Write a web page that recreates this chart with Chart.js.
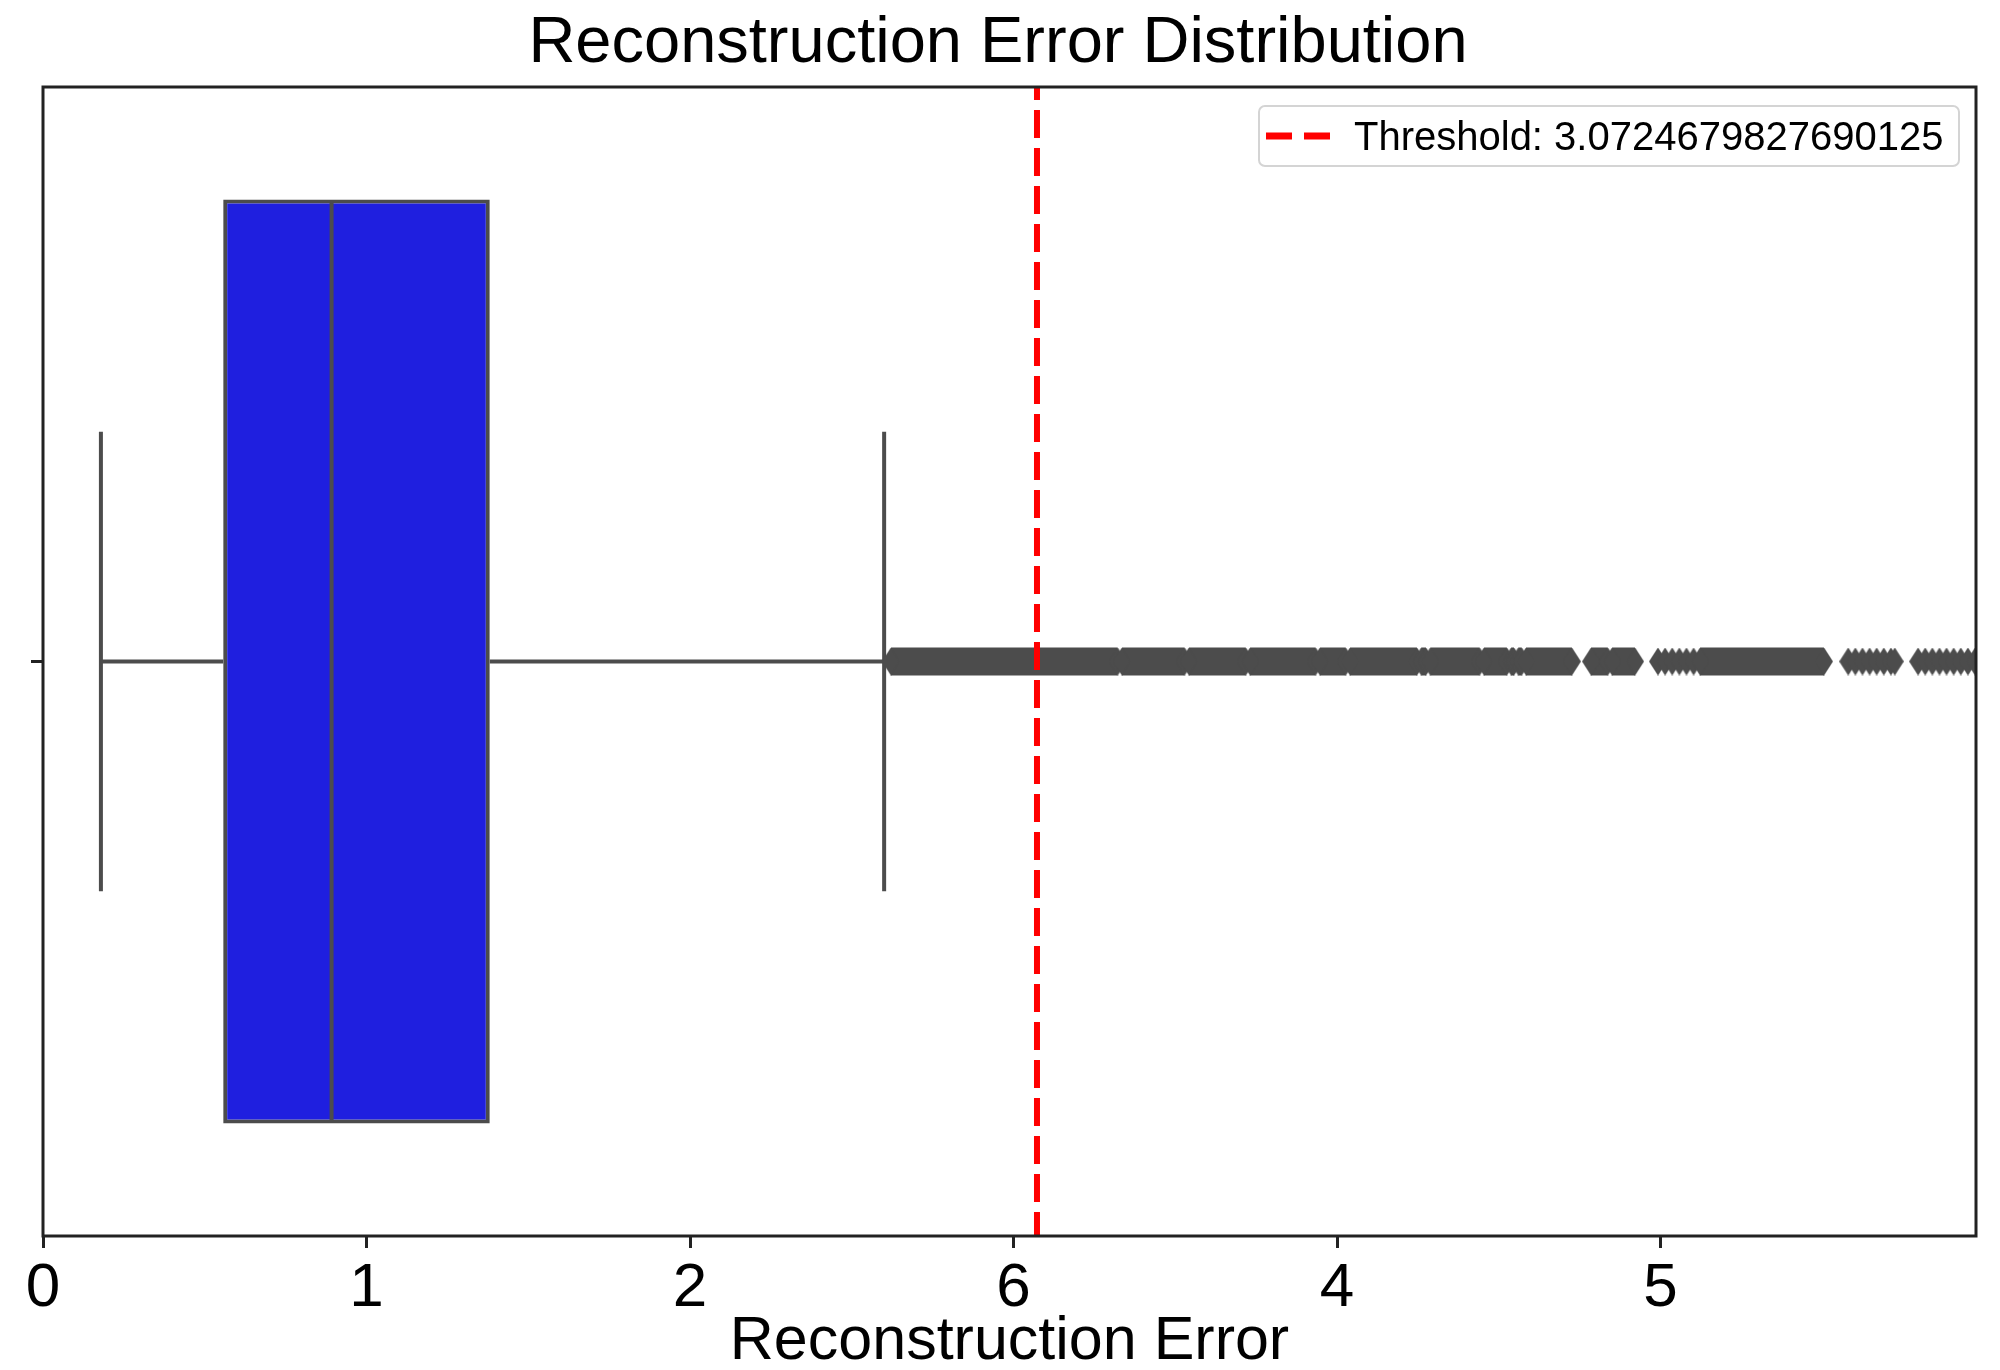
<!DOCTYPE html>
<html>
<head>
<meta charset="utf-8">
<script src="https://cdn.jsdelivr.net/npm/chart.js@4.4.1/dist/chart.umd.min.js"></script>
<style>
    html, body { margin: 0; padding: 0; background: #fff; }
    #wrap { position: relative; width: 2000px; height: 1370px; }
    #legend {
        position: absolute; left: 1258px; top: 105px; width: 698px; height: 58px;
        border: 2px solid #d4d4d4; border-radius: 7px; background: rgba(255,255,255,0.85);
        font-family: "Liberation Sans", Arial, sans-serif; font-size: 40px; color: #000;
        display: flex; align-items: center; box-sizing: content-box; white-space: nowrap;
    }
    #legend svg { margin-left: 6px; margin-right: 20px; }
</style>
</head>
<body>
<div id="wrap">
    <canvas id="chart"></canvas>
    <div id="legend"></div>
</div>
<script>
// values
const categories = [''];
const boxValues = [0.179, 0.557, 0.892, 1.381, 2.600]; // low whisker, q1, median, q3, high whisker
const threshold = 3.0724679827690125;
// outlier diamonds: runs of densely packed points [first, last]
const outlierRuns = [
    [2.621, 3.322], [3.335, 3.529], [3.542, 3.718], [3.731, 3.934], [3.947, 4.027],
    [4.040, 4.247], [4.260, 4.275], [4.288, 4.441], [4.454, 4.525], [4.538, 4.547],
    [4.560, 4.571], [4.584, 4.726], [4.785, 4.837], [4.850, 4.921], [4.992, 4.992],
    [5.014, 5.014], [5.036, 5.036], [5.058, 5.058], [5.080, 5.080], [5.102, 5.102],
    [5.122, 5.505], [5.580, 5.580], [5.602, 5.602], [5.624, 5.624], [5.646, 5.646],
    [5.668, 5.668], [5.690, 5.690], [5.712, 5.712], [5.724, 5.724], [5.796, 5.796],
    [5.818, 5.818], [5.840, 5.840], [5.862, 5.862], [5.884, 5.884], [5.906, 5.906],
    [5.928, 5.928], [5.950, 5.950], [5.972, 5.972], [5.994, 5.994]
];
const xTickValues = [0, 1, 2, 3, 4, 5];
const xTickLabels = ['0', '1', '2', '6', '4', '5'];
const xMax = 5.975;

const FONT = '"Liberation Sans", Arial, sans-serif';
const GRAY = '#4c4c4c';
const BOX_BLUE = '#1f1fdf';

const [whiskLo, q1, med, q3, whiskHi] = boxValues;

// thin diamond marker like matplotlib's 'd'
function makeDiamond(w, h, color) {
    const c = document.createElement('canvas');
    c.width = w;
    c.height = h;
    const g = c.getContext('2d');
    g.fillStyle = color;
    g.beginPath();
    g.moveTo(w / 2, 0);
    g.lineTo(w, h / 2);
    g.lineTo(w / 2, h);
    g.lineTo(0, h / 2);
    g.closePath();
    g.fill();
    return c;
}

const bandLine = [];
const bandEnds = [];
outlierRuns.forEach(([a, b]) => {
    bandLine.push({x: a, y: 0}, {x: b, y: 0}, {x: b, y: null});
    bandEnds.push({x: a, y: 0});
    if (b !== a) bandEnds.push({x: b, y: 0});
});

const lineDefaults = {
    type: 'line', indexAxis: 'x', yAxisID: 'y2', pointRadius: 0,
    borderColor: GRAY, borderWidth: 4, fill: false, clip: 0, spanGaps: false
};

const framePlugin = {
    id: 'frame',
    afterDraw(chart) {
        const {ctx, chartArea: a} = chart;
        ctx.save();
        ctx.strokeStyle = '#222';
        ctx.lineWidth = 3;
        ctx.strokeRect(a.left, a.top, a.right - a.left, a.bottom - a.top);
        ctx.restore();
    }
};

new Chart(document.getElementById('chart'), {
    type: 'bar',
    data: {
        labels: categories,
        datasets: [
            Object.assign({}, lineDefaults, {
                label: 'Threshold: ' + threshold,
                data: [{x: threshold, y: 0.5}, {x: threshold, y: -0.5}],
                borderColor: '#ff0000', borderWidth: 6, borderDash: [28, 10], borderDashOffset: 15
            }),
            Object.assign({}, lineDefaults, {
                label: 'outlier markers', data: bandEnds, showLine: false,
                pointRadius: 10, pointStyle: makeDiamond(18, 28, GRAY)
            }),
            Object.assign({}, lineDefaults, {
                label: 'outliers', data: bandLine, borderWidth: 28, borderCapStyle: 'butt'
            }),
            Object.assign({}, lineDefaults, {
                label: 'median', data: [{x: med, y: -0.4}, {x: med, y: 0.4}]
            }),
            Object.assign({}, lineDefaults, {
                label: 'whisker low', data: [{x: whiskLo, y: 0}, {x: q1, y: 0}]
            }),
            Object.assign({}, lineDefaults, {
                label: 'whisker high', data: [{x: q3, y: 0}, {x: whiskHi, y: 0}]
            }),
            Object.assign({}, lineDefaults, {
                label: 'cap low', data: [{x: whiskLo, y: -0.2}, {x: whiskLo, y: 0.2}]
            }),
            Object.assign({}, lineDefaults, {
                label: 'cap high', data: [{x: whiskHi, y: -0.2}, {x: whiskHi, y: 0.2}]
            }),
            {
                type: 'bar', label: 'box', data: [[q1, q3]],
                backgroundColor: BOX_BLUE, borderColor: GRAY, borderWidth: 4,
                borderSkipped: false, barPercentage: 0.804, categoryPercentage: 1, grouped: false
            }
        ]
    },
    options: {
        indexAxis: 'y',
        responsive: true,
        maintainAspectRatio: false,
        animation: false,
        events: [],
        layout: { padding: { left: 20, right: 24, top: 0, bottom: 0 } },
        plugins: {
            legend: { display: false },
            tooltip: { enabled: false },
            title: {
                display: true,
                text: 'Reconstruction Error Distribution',
                color: '#000',
                font: { family: FONT, size: 65, weight: 'normal', lineHeight: 1.2 },
                padding: { top: 5, bottom: 4 }
            }
        },
        scales: {
            x: {
                type: 'linear',
                min: 0,
                max: xMax,
                afterBuildTicks: axis => { axis.ticks = xTickValues.map(v => ({value: v})); },
                afterFit: axis => { axis.height = 134; },
                ticks: {
                    callback: (v, i) => xTickLabels[i],
                    color: '#000', padding: 4, autoSkip: false, maxRotation: 0,
                    font: { family: FONT, size: 62 }
                },
                grid: {
                    display: true, drawOnChartArea: false, drawTicks: true,
                    tickLength: 12, tickWidth: 3, tickColor: '#222'
                },
                border: { display: false },
                title: {
                    display: true, text: 'Reconstruction Error', color: '#000',
                    font: { family: FONT, size: 61, lineHeight: 0.9 }, padding: { top: 0, bottom: 0 }
                }
            },
            y: {
                type: 'category',
                offset: true,
                afterFit: axis => { axis.width = 23; },
                ticks: { display: true, callback: () => '', padding: 0 },
                grid: {
                    display: true, offset: false, drawOnChartArea: false, drawTicks: true,
                    tickLength: 12, tickWidth: 3, tickColor: '#222'
                },
                border: { display: false }
            },
            y2: {
                type: 'linear',
                display: false,
                offset: false,
                grid: { offset: false },
                min: -0.5,
                max: 0.5
            }
        }
    },
    plugins: [framePlugin]
});

// legend box in the upper right of the plot
const legend = document.getElementById('legend');
legend.innerHTML =
    '<svg width="68" height="10"><line x1="0" y1="5" x2="68" y2="5" stroke="#ff0000" ' +
    'stroke-width="7" stroke-dasharray="26,12"/></svg><span>Threshold: ' + threshold + '</span>';
</script>
</body>
</html>
